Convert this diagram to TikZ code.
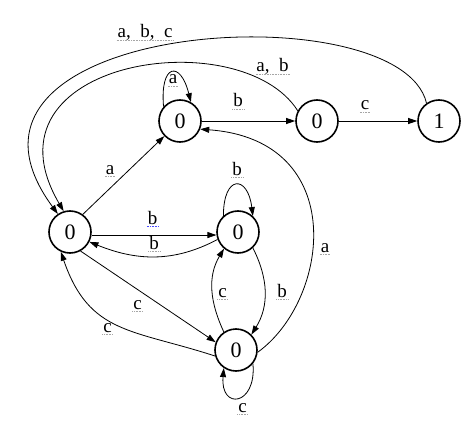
\documentclass[tikz,border=0pt]{standalone}
\usepackage{fontspec}
\setmainfont{Liberation Serif}
\usetikzlibrary{arrows.meta}
\begin{document}
\begin{tikzpicture}[x=1pt, y=1pt, >={Triangle[length=9pt,width=6pt]}, line width=0.8pt,
	state/.style={circle, draw, line width=1.6pt, minimum size=42pt, inner sep=0pt, font=\fontsize{22}{22}\selectfont},
	lbl/.style={anchor=base, inner sep=0.5pt, font=\fontsize{19}{19}\selectfont,
		append after command={([yshift=-2.5pt]\tikzlastnode.base west) edge[densely dotted, line width=0.6pt, draw=#1] ([yshift=-2.5pt]\tikzlastnode.base east)}},
	lbl/.default=gray!70]
	\useasboundingbox (0,0) rectangle (474,424);
	
	% 1. 状态结点
	\node[state] (s0) at (70,192) {0};
	\node[state] (s1) at (180,303) {0};
	\node[state] (s2) at (317,303) {0};
	\node[state] (s3) at (439,303) {1};
	\node[state] (s4) at (238,192) {0};
	\node[state] (s5) at (236,74) {0};
	
	% 2. 直线转移
	\draw[->] (s0.54) -- (s1.224);
	\draw[->] (s1) -- (s2);
	\draw[->] (s2) -- (s3);
	\draw[->] (s0.-8) -- (s4.188);
	\draw[->] (s0.-61) -- (s5.159);
	
	% 3. 弯曲转移
	\draw[->] (s3.125) .. controls (400,434) and (-85,404) .. (s0.124);
	\draw[->] (s2.152) .. controls (240,404) and (-25,364) .. (s0.107);
	\draw[->] (s4.200) to[out=208, in=-22] (s0.-27);
	\draw[->] (s4.-47) to[out=-63, in=58] (s5.45);
	\draw[->] (s5.124) to[out=115, in=-121] (s4.-130);
	\draw[->] (s5.196) to[out=162, in=-71, looseness=1.2] (s0.-115);
	\draw[->] (s5.-6) .. controls (330,124) and (350,284) .. (s1.-22);
	
	% 4. 自环
	\draw[->] (s1.139) to[out=95, in=104, looseness=4] (s1.60);
	\draw[->] (s4.132) to[out=90, in=97, looseness=3.6] (s4.47);
	\draw[->] (s5.-39) to[out=-85, in=-95, looseness=3.7] (s5.-124);
	
	% 5. 转移标注
	\node[lbl] (t30) at (145,386) {a,\enspace b,\enspace c};
	\node[lbl] (t20) at (272.5,352) {a,\enspace b};
	\node[lbl] (t11) at (173,340) {a};
	\node[lbl] (t12) at (238,317) {b};
	\node[lbl] (t23) at (365,314) {c};
	\node[lbl] (t01) at (110,250) {a};
	\node[lbl] (t44) at (237,249) {b};
	\node[lbl=blue!70] (t04) at (152.5,200) {b};
	\node[lbl] (t40) at (154,175) {b};
	\node[lbl] (t51) at (325,172) {a};
	\node[lbl] (t54) at (222.5,127) {c};
	\node[lbl] (t45) at (282,127) {b};
	\node[lbl] (t05) at (137.5,115) {c};
	\node[lbl] (t50) at (107.5,92) {c};
	\node[lbl] (t55) at (242.5,12) {c};
\end{tikzpicture}
\end{document}
